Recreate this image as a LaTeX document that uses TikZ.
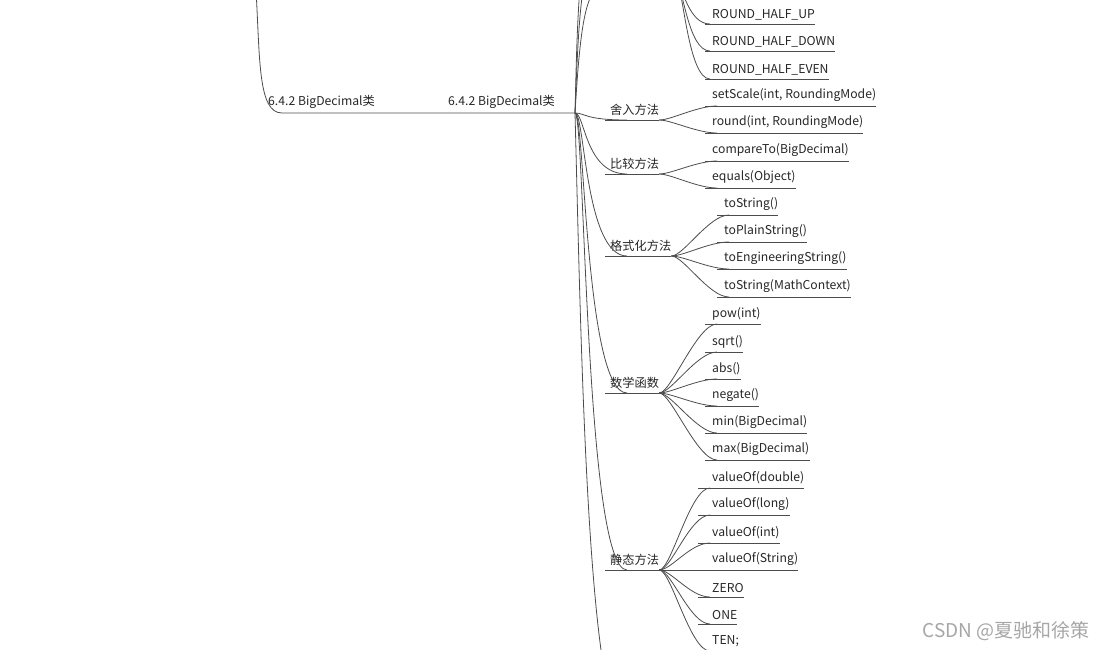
\documentclass[tikz,border=0pt]{standalone}
\usepackage{fontspec}
\setmainfont{Noto Sans CJK SC}
\begin{document}
\begin{tikzpicture}[x=1pt,y=-1pt,
  lk/.style={draw=black!70,line width=0.8pt},
  txt/.style={anchor=south west,inner xsep=0pt,inner ysep=4pt,font=\fontsize{12.2}{14}\selectfont,text=black!85}]
\useasboundingbox (0,0) rectangle (1105,649);
\clip (0,0) rectangle (1105,649);
\newcommand\leaf[5][7pt]{\node[txt] (#2) at (#3,#4) {\hspace{#1}#5\hspace{8pt}};
  \draw[lk] (#2.south west) -- (#2.south east);}
\newcommand\cat[4]{\node[txt] (#1) at (#2,#3) {\hspace{5pt}#4\hspace{19pt}};
  \draw[lk] (#1.south west) -- (#1.south east);}
\newcommand\con[2]{\draw[lk] (#1.south east) .. controls ([xshift=12pt]#1.south east) and ([xshift=-8pt]#2.south west) .. ([xshift=12pt]#2.south west);}
% root
\node[txt] (root) at (270,113) {\hspace{-2pt}6.4.2 BigDecimal类\hspace{50pt}};
\node[txt] (hubn) at (440,113) {\hspace{8pt}6.4.2 BigDecimal类\hspace{19pt}};
\coordinate (hub) at (575,113);
\coordinate (top) at (256,-10);
\draw[lk] (top) .. controls (260,60) and (258,113) .. (282,113) -- (hub);
% hidden categories (above the frame)
\coordinate (c0) at (605,-15);
\coordinate (c0e) at (677,-15);
\coordinate (cm1) at (605,-60);
\coordinate (cm2) at (605,-100);
\draw[lk] (c0) -- (c0e);
\draw[lk] (hub) .. controls (580,30) and (585,-15) .. (c0);
\draw[lk] (hub) .. controls (578,40) and (580,-60) .. (cm1);
\draw[lk] (hub) .. controls (577,40) and (578,-100) .. (cm2);
\leaf{r1}{705}{24}{ROUND\_HALF\_UP}
\leaf{r2}{705}{51}{ROUND\_HALF\_DOWN}
\leaf{r3}{705}{79}{ROUND\_HALF\_EVEN}
\foreach \r in {r1,r2,r3}{
  \draw[lk] (c0e) .. controls (683,-15) and ([xshift=-17pt]\r.south west) .. ([xshift=5pt]\r.south west);}
% categories
\cat{c1}{605}{120}{舍入方法}
\cat{c2}{605}{174}{比较方法}
\cat{c3}{605}{256}{格式化方法}
\cat{c4}{605}{393}{数学函数}
\cat{c5}{605}{570}{静态方法}
\coordinate (cbot) at (610,700);
\coordinate (hubc) at (585,113);
\foreach \c in {c1,c2,c3,c4,c5}{
  \draw[lk] (hub) .. controls (hubc) and (hubc |- \c.south west) .. ([xshift=22pt]\c.south west);}
\draw[lk] (hub) .. controls (580,300) and (585,600) .. (cbot);
% leaves
\leaf{a1}{705}{106}{setScale(int, RoundingMode)}
\leaf{a2}{705}{133}{round(int, RoundingMode)}
\leaf{b1}{705}{161}{compareTo(BigDecimal)}
\leaf{b2}{705}{188}{equals(Object)}
\leaf{f1}{717}{215}{toString()}
\leaf{f2}{717}{242}{toPlainString()}
\leaf{f3}{717}{269}{toEngineeringString()}
\leaf{f4}{717}{297}{toString(MathContext)}
\leaf{m1}{705}{324}{pow(int)}
\leaf{m2}{705}{352}{sqrt()}
\leaf{m3}{705}{379}{abs()}
\leaf{m4}{705}{406}{negate()}
\leaf{m5}{705}{433}{min(BigDecimal)}
\leaf{m6}{705}{460}{max(BigDecimal)}
\leaf[14pt]{s1}{698}{488}{valueOf(double)}
\leaf[14pt]{s2}{698}{515}{valueOf(long)}
\leaf[14pt]{s3}{698}{543}{valueOf(int)}
\leaf[14pt]{s4}{698}{570}{valueOf(String)}
\leaf[14pt]{s5}{698}{597}{ZERO}
\leaf[14pt]{s6}{698}{624}{ONE}
\leaf[14pt]{s7}{698}{651}{TEN;}
\foreach \l in {a1,a2}{\con{c1}{\l}}
\foreach \l in {b1,b2}{\con{c2}{\l}}
\foreach \l in {f1,f2,f3,f4}{\con{c3}{\l}}
\foreach \l in {m1,m2,m3,m4,m5,m6}{\con{c4}{\l}}
\foreach \l in {s1,s2,s3,s4,s5,s6,s7}{\con{c5}{\l}}
\node[anchor=south east,inner sep=0pt,font=\fontsize{19}{21}\selectfont,text=black!35] (wm) at (1090,641) {CSDN @夏驰和徐策};
\end{tikzpicture}
\end{document}
